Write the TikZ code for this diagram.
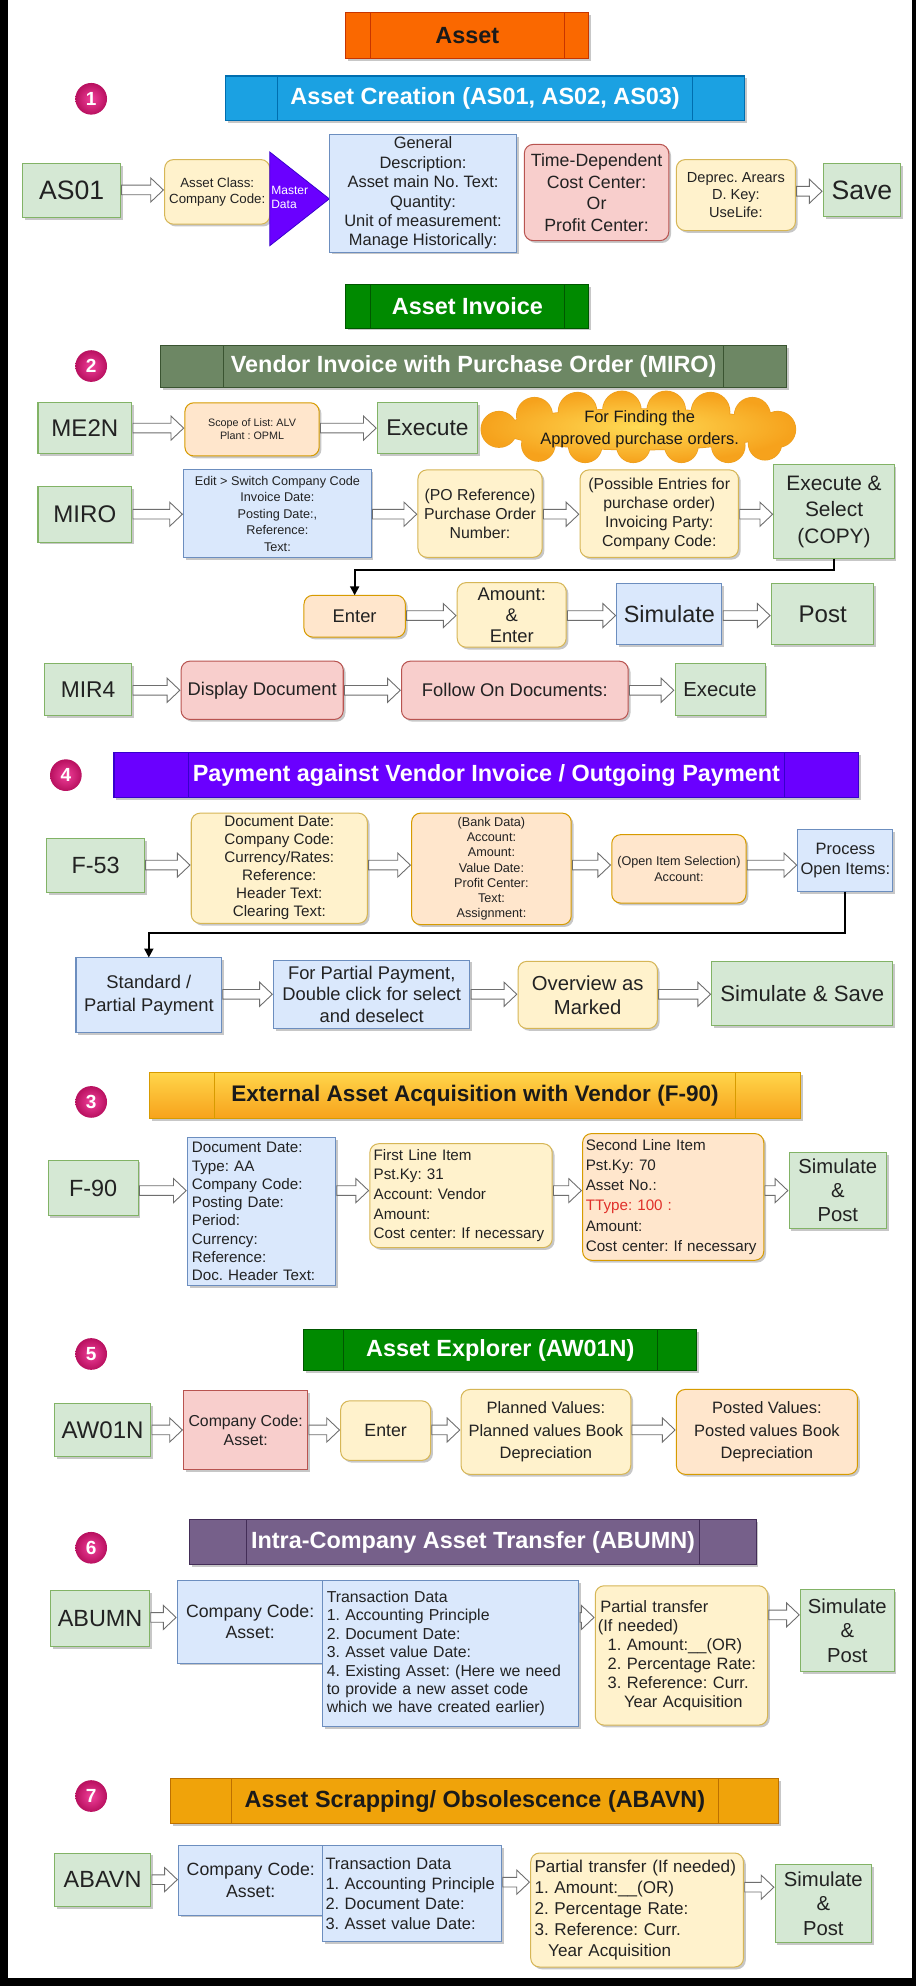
\documentclass[tikz,border=0pt]{standalone}
\usepackage{fontspec}
\setmainfont{Liberation Sans}
\usetikzlibrary{calc,shadows,arrows.meta}
\frenchspacing

\definecolor{txt}{HTML}{222222}
\definecolor{gF}{HTML}{D5E8D4}\definecolor{gS}{HTML}{82B366}
\definecolor{yF}{HTML}{FFF2CC}\definecolor{yS}{HTML}{D6B656}
\definecolor{bF}{HTML}{DAE8FC}\definecolor{bS}{HTML}{6C8EBF}
\definecolor{pF}{HTML}{F8CECC}\definecolor{pS}{HTML}{B85450}
\definecolor{oF}{HTML}{FFE6CC}\definecolor{oS}{HTML}{D79B00}
\definecolor{orF}{HTML}{FA6800}\definecolor{orS}{HTML}{C73500}
\definecolor{blF}{HTML}{1BA1E2}\definecolor{blS}{HTML}{006EAF}
\definecolor{grF}{HTML}{008A00}\definecolor{grS}{HTML}{005700}
\definecolor{olF}{HTML}{6D8764}\definecolor{olS}{HTML}{3A5431}
\definecolor{puF}{HTML}{6A00FF}\definecolor{puS}{HTML}{3700CC}
\definecolor{goT}{HTML}{FFD54A}\definecolor{goB}{HTML}{F7A21B}\definecolor{goS}{HTML}{D79B00}
\definecolor{viF}{HTML}{76608A}\definecolor{viS}{HTML}{432D57}
\definecolor{amF}{HTML}{F0A30A}\definecolor{amS}{HTML}{BD7000}
\definecolor{magI}{HTML}{F0409A}\definecolor{magO}{HTML}{B8105F}
\definecolor{arrS}{HTML}{6E6E6E}
\definecolor{cloudI}{HTML}{FFDB55}\definecolor{cloudO}{HTML}{F6A21C}\definecolor{cloudS}{HTML}{EEA020}
\definecolor{ttred}{HTML}{E0302A}
\definecolor{dark}{HTML}{1A1A1A}

\newcommand\fs[2]{\fontsize{#1}{#2}\selectfont}

\tikzset{
  shad/.style={drop shadow={shadow xshift=1.8pt,shadow yshift=-1.8pt,opacity=0.22,fill=black}},
  base/.style={shad,inner sep=1.5pt,outer sep=0pt,align=center,text=txt,line width=0.8pt},
  gbox/.style={base,fill=gF,draw=gS},
  ybox/.style={base,fill=yF,draw=yS,rounded corners=7pt},
  obox/.style={base,fill=oF,draw=oS,rounded corners=7pt},
  bbox/.style={base,fill=bF,draw=bS},
  pbox/.style={base,fill=pF,draw=pS,rounded corners=7pt},
  prect/.style={base,fill=pF,draw=pS},
  bannerst/.style={shad,inner sep=0pt,outer sep=0pt,line width=0.8pt,font=\fs{18.5}{22}\bfseries},
  numc/.style={circle,minimum size=25pt,inner sep=0pt,inner color=magI,outer color=magO,text=white,font=\fs{15}{15}\bfseries},
  barrowst/.style={fill=white,draw=arrS,line width=0.7pt,line join=miter},
  elbowst/.style={draw=black,line width=1.6pt,-{Triangle[length=7pt,width=7pt]}},
}

% box: name, style, x1, y1, x2, y2, text
\newcommand\bx[7]{\node[#2,minimum width={(#5)-(#3)},minimum height={(#6)-(#4)}] (#1) at ({((#3)+(#5))/2},{((#4)+(#6))/2}) {#7};}
% banner: name, x1,y1,x2,y2, fill style, stroke, text colour, text
\newcommand\mybanner[9]{%
  \node[bannerst,#6,draw=#7,text=#8,minimum width={(#4)-(#2)},minimum height={(#5)-(#3)}] (#1) at ({((#2)+(#4))/2},{((#3)+(#5))/2}) {#9};
  \draw[#7,line width=0.8pt] ($(#1.north west)!0.1!(#1.north east)$) -- ($(#1.south west)!0.1!(#1.south east)$);
  \draw[#7,line width=0.8pt] ($(#1.north west)!0.9!(#1.north east)$) -- ($(#1.south west)!0.9!(#1.south east)$);}
% hollow block arrow: source, target, y
\newcommand\barr[3]{%
  \draw[barrowst] let \p1=(#1.east), \p2=(#2.west), \p3=(0,#3) in
  ({\x1+1pt},{\y3+3.8pt}) -- ({\x2-11pt},{\y3+3.8pt}) -- ({\x2-11pt},{\y3+9.5pt}) --
  ({\x2-1pt},{\y3}) -- ({\x2-11pt},{\y3-9.5pt}) -- ({\x2-11pt},{\y3-3.8pt}) --
  ({\x1+1pt},{\y3-3.8pt}) -- cycle;}
\newcommand\cloudpath{(394,339) circle (14) (614,339) circle (14)
  (422,328) circle (14) (456,325) circle (15) (491,324) circle (15) (526,324) circle (15)
  (561,325) circle (15) (594,328) circle (14)
  (425,351) circle (13) (462,352) circle (13) (500,352) circle (13) (538,352) circle (13)
  (575,352) circle (13) (604,350) circle (13) (504,339) ellipse (108 and 16)}

\begin{document}
\begin{tikzpicture}[x=1pt,y=-1pt]
\fill[black] (0,0) rectangle (723,1568);
\fill[white] (6,0) rectangle (720,1562);
\useasboundingbox (0,0) rectangle (723,1568);

% ---------- header ----------
\mybanner{hasset}{273}{10}{465}{46}{fill=orF}{orS}{dark}{Asset}
\node[numc] (c1) at (72,78) {1};
\mybanner{hcreate}{178}{60}{588}{95}{fill=blF}{blS}{white}{Asset Creation (AS01, AS02, AS03)}

% ---------- row AS01 ----------
\bx{as01}{gbox,font=\fs{21}{24}}{18}{129}{95}{172}{AS01}
\bx{aclass}{ybox,font=\fs{10.5}{13}}{130}{126}{213}{177}{Asset Class:\\Company Code:}
\filldraw[fill=puF,draw=puS,line width=0.6pt] (213,120) -- (260,157) -- (213,194) -- cycle;
\node[anchor=west,align=left,text=white,inner sep=0pt,font=\fs{9.5}{11}] (mdata) at (214,156) {Master\\Data};
\bx{gen}{bbox,font=\fs{13}{15.3}}{260}{106}{408}{199}{General\\Description:\\Asset main No. Text:\\Quantity:\\Unit of measurement:\\Manage Historically:}
\bx{timedep}{pbox,font=\fs{14}{17}}{414}{114}{528}{190}{Time-Dependent\\Cost Center:\\Or\\Profit Center:}
\bx{deprec}{ybox,font=\fs{11.5}{14}}{534}{126}{628}{182}{Deprec. Arears\\D. Key:\\UseLife:}
\bx{save}{gbox,font=\fs{21}{24}}{650}{129}{711}{171}{Save}
\barr{as01}{aclass}{150}
\barr{deprec}{save}{151}

% ---------- Asset invoice ----------
\mybanner{hinv}{273}{225}{465}{259}{fill=grF}{grS}{white}{Asset Invoice}
\node[numc] (c2) at (72,289) {2};
\mybanner{hmiro}{127}{273}{621}{306}{fill=olF}{olS}{white}{Vendor Invoice with Purchase Order (MIRO)}

\bx{me2n}{gbox,font=\fs{19}{22}}{30}{318}{104}{358}{ME2N}
\bx{scope}{obox,font=\fs{8.5}{10.5}}{146}{318}{252}{360}{Scope of List: ALV\\Plant : OPML}
\bx{exec1}{gbox,font=\fs{18}{21}}{298}{318}{377}{358}{Execute}
\draw[cloudS,line width=1.2pt] \cloudpath;
\shade[inner color=cloudI,outer color=cloudO] \cloudpath;
\node[align=center,text=dark,font=\fs{13}{17}] (cloud) at (505,339) {For Finding the\\Approved purchase orders.};
\barr{me2n}{scope}{338}
\barr{scope}{exec1}{338}

\bx{miro}{gbox,font=\fs{19}{22}}{30}{384}{104}{428}{MIRO}
\bx{edit}{bbox,font=\fs{10}{13}}{145}{371}{293}{440}{Edit > Switch Company Code\\Invoice Date:\\Posting Date:,\\Reference:\\Text:}
\bx{po}{ybox,font=\fs{12.5}{15}}{330}{371}{428}{440}{(PO Reference)\\Purchase Order\\Number:}
\bx{poss}{ybox,font=\fs{12.5}{15}}{458}{371}{583}{440}{(Possible Entries for\\purchase order)\\Invoicing Party:\\Company Code:}
\bx{exsel}{gbox,font=\fs{16.5}{21}}{611}{367}{706}{441}{Execute \&\\Select\\(COPY)}
\barr{miro}{edit}{406}
\barr{edit}{po}{406}
\barr{po}{poss}{406}
\barr{poss}{exsel}{406}

\bx{enter}{obox,font=\fs{14.5}{17}}{240}{470}{320}{503}{Enter}
\bx{amount}{ybox,font=\fs{14.5}{16.5}}{361}{460}{447}{511}{Amount:\\\&\\Enter}
\bx{sim}{bbox,font=\fs{18.5}{21}}{487}{461}{570}{509}{Simulate}
\bx{post}{gbox,font=\fs{19}{22}}{609}{461}{690}{509}{Post}
\coordinate (e1) at (450,450);
\draw[elbowst] (exsel.south) |- (e1) -| (enter.north);
\barr{enter}{amount}{486}
\barr{amount}{sim}{486}
\barr{sim}{post}{486}

\bx{mir4}{gbox,font=\fs{18}{21}}{35}{524}{104}{565}{MIR4}
\bx{disp}{pbox,font=\fs{14.5}{17}}{143}{522}{271}{568}{Display Document}
\bx{follow}{pbox,font=\fs{14.5}{17}}{317}{522}{496}{568}{Follow On Documents:}
\bx{exec2}{gbox,font=\fs{16}{19}}{533}{524}{604}{565}{Execute}
\barr{mir4}{disp}{545}
\barr{disp}{follow}{545}
\barr{follow}{exec2}{545}

% ---------- section 4 ----------
\node[numc] (c4) at (52,612) {4};
\mybanner{hpay}{90}{594}{678}{630}{fill=puF}{puS}{white}{Payment against Vendor Invoice / Outgoing Payment}

\bx{f53}{gbox,font=\fs{18.5}{21}}{37}{662}{114}{705}{F-53}
\bx{doc53}{ybox,font=\fs{12}{14.2}}{151}{642}{290}{729}{Document Date:\\Company Code:\\Currency/Rates:\\Reference:\\Header Text:\\Clearing Text:}
\bx{bank}{obox,font=\fs{10}{12}}{325}{642}{451}{730}{(Bank Data)\\Account:\\Amount:\\Value Date:\\Profit Center:\\Text:\\Assignment:}
\bx{openitem}{obox,font=\fs{10}{13}}{483}{659}{589}{713}{(Open Item Selection)\\Account:}
\bx{process}{bbox,font=\fs{13}{16}}{630}{655}{705}{704}{Process\\Open Items:}
\barr{f53}{doc53}{683}
\barr{doc53}{bank}{683}
\barr{bank}{openitem}{683}
\barr{openitem}{process}{683}

\bx{std}{bbox,font=\fs{14.5}{18}}{60}{756}{175}{815}{Standard /\\Partial Payment}
\bx{forpp}{bbox,font=\fs{14.5}{17}}{216}{758}{371}{812}{For Partial Payment,\\Double click for select\\and deselect}
\bx{overview}{ybox,font=\fs{16}{19}}{409}{759}{519}{812}{Overview as\\Marked}
\bx{simsave}{gbox,font=\fs{17.5}{21}}{562}{759}{705}{810}{Simulate \& Save}
\coordinate (e2) at (400,737);
\draw[elbowst] (process.south) |- (e2) -| (std.north);
\barr{std}{forpp}{785}
\barr{forpp}{overview}{785}
\barr{overview}{simsave}{785}

% ---------- section 3 ----------
\node[numc] (c3) at (72,870) {3};
\mybanner{hf90}{118}{847}{632}{883}{top color=goT,bottom color=goB,font=\fs{17.8}{22}\bfseries}{goS}{dark}{External Asset Acquisition with Vendor (F-90)}

\bx{f90}{gbox,font=\fs{18.5}{21}}{38}{916}{109}{960}{F-90}
\bx{doc90}{bbox,align=left,text width=110pt,font=\fs{12}{14.4}}{148}{898}{265}{1015}{Document Date:\\Type: AA\\Company Code:\\Posting Date:\\Period:\\Currency:\\Reference:\\Doc. Header Text:}
\bx{first}{ybox,align=left,text width=138pt,font=\fs{12}{15.5}}{292}{903}{436}{985}{First Line Item\\Pst.Ky: 31\\Account: Vendor\\Amount:\\Cost center: If necessary}
\bx{second}{obox,align=left,text width=138pt,font=\fs{12}{16}}{460}{895}{603}{995}{Second Line Item\\Pst.Ky: 70\\Asset No.:\\\textcolor{ttred}{TType: 100 :}\\Amount:\\Cost center: If necessary}
\bx{simpost3}{gbox,font=\fs{16}{19}}{623}{910}{700}{970}{Simulate\\\&\\Post}
\barr{f90}{doc90}{940}
\barr{doc90}{first}{940}
\barr{first}{second}{940}
\barr{second}{simpost3}{940}

% ---------- section 5 ----------
\node[numc] (c5) at (72,1069) {5};
\mybanner{hexp}{240}{1050}{550}{1082}{fill=grF}{grS}{white}{Asset Explorer (AW01N)}

\bx{aw01n}{gbox,font=\fs{19}{22}}{43}{1108}{119}{1150}{AW01N}
\bx{cca5}{prect,font=\fs{12.5}{15}}{145}{1098}{243}{1160}{Company Code:\\Asset:}
\bx{enter5}{ybox,font=\fs{14}{17}}{269}{1106}{340}{1153}{Enter}
\bx{planned}{ybox,font=\fs{13}{18}}{364}{1097}{498}{1164}{Planned Values:\\Planned values Book\\Depreciation}
\bx{posted}{obox,font=\fs{13}{18}}{534}{1097}{677}{1164}{Posted Values:\\Posted values Book\\Depreciation}
\barr{aw01n}{cca5}{1129}
\barr{cca5}{enter5}{1129}
\barr{enter5}{planned}{1129}
\barr{planned}{posted}{1129}

% ---------- section 6 ----------
\node[numc] (c6) at (72,1222) {6};
\mybanner{habumn}{150}{1200}{597}{1235}{fill=viF}{viS}{white}{Intra-Company Asset Transfer (ABUMN)}

\bx{abumn}{gbox,font=\fs{18.5}{21}}{40}{1256}{118}{1300}{ABUMN}
\bx{cca6}{bbox,font=\fs{14}{17}}{140}{1248}{255}{1313}{Company Code:\\Asset:}
\bx{trans6}{bbox,align=left,text width=196pt,font=\fs{12.5}{14.5}}{255}{1248}{457}{1363}{Transaction Data\\1. Accounting Principle\\2. Document Date:\\3. Asset value Date:\\4. Existing Asset: (Here we need\\to provide a new asset code\\which we have created earlier)}
\bx{partial6}{ybox,align=left,text width=132pt,font=\fs{13}{15}}{470}{1252}{606}{1362}{\hspace*{0.15em}Partial transfer\\(If needed)\\\hspace*{0.6em}1. Amount:\_\_(OR)\\\hspace*{0.6em}2. Percentage Rate:\\\hspace*{0.6em}3. Reference: Curr.\\\hspace*{1.6em}Year Acquisition}
\bx{simpost6}{gbox,font=\fs{16}{19}}{632}{1255}{706}{1320}{Simulate\\\&\\Post}
\barr{abumn}{cca6}{1277}
\barr{trans6}{partial6}{1277}
\barr{partial6}{simpost6}{1275}

% ---------- section 7 ----------
\node[numc] (c7) at (72,1418) {7};
\mybanner{habavn}{135}{1404}{615}{1440}{fill=amF}{amS}{dark}{Asset Scrapping/ Obsolescence (ABAVN)}

\bx{abavn}{gbox,font=\fs{18.5}{21}}{43}{1463}{119}{1505}{ABAVN}
\bx{cca7}{bbox,font=\fs{14}{17}}{141}{1457}{255}{1512}{Company Code:\\Asset:}
\bx{trans7}{bbox,align=left,text width=137pt,font=\fs{13}{16}}{255}{1457}{396}{1533}{Transaction Data\\1. Accounting Principle\\2. Document Date:\\3. Asset value Date:}
\bx{partial7}{ybox,align=left,text width=162pt,font=\fs{13.5}{16.5}}{419}{1463}{587}{1553}{Partial transfer (If needed)\\1. Amount:\_\_(OR)\\2. Percentage Rate:\\3. Reference: Curr.\\\hspace*{0.8em}Year Acquisition}
\bx{simpost7}{gbox,font=\fs{16}{19}}{612}{1472}{688}{1534}{Simulate\\\&\\Post}
\barr{abavn}{cca7}{1484}
\barr{trans7}{partial7}{1486}
\barr{partial7}{simpost7}{1490}
\end{tikzpicture}
\end{document}
